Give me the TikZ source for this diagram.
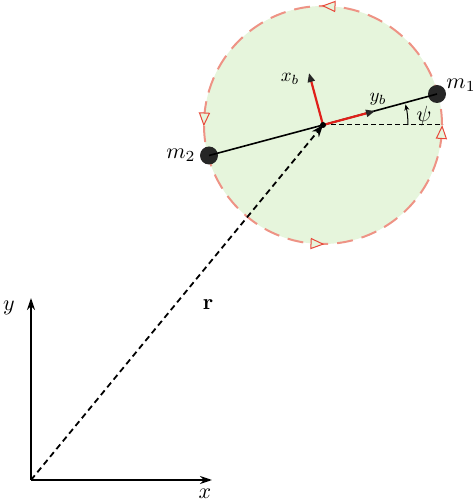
\documentclass[tikz,border=0pt]{standalone}
\usetikzlibrary{arrows.meta,decorations.markings}
\definecolor{discfill}{HTML}{E6F5DC}
\definecolor{discedge}{HTML}{EE9385}
\definecolor{vecred}{HTML}{E0201A}
\definecolor{markred}{HTML}{E8483A}
\begin{document}
\begin{tikzpicture}[x=1pt,y=1pt,
  lbl/.style={inner sep=0pt,scale=2.2},
  smalllbl/.style={inner sep=0pt,scale=1.9},
  axis/.style={line width=1.6pt,-{Stealth[length=12pt,width=8pt]}},
  massdot/.style={circle,fill=black!85,minimum size=18pt,inner sep=0pt},
  bodyvec/.style={vecred,line width=2.2pt,-{Triangle[length=9pt,width=7pt,fill=black!75,color=black!85]}},
  markarrow/.style={decoration={markings,
     mark=at position 0.242 with {\draw[solid,markred,line width=1pt,fill=discfill] (-6pt,-5pt) -- (6pt,0pt) -- (-6pt,5pt) -- cycle;},
     mark=at position 0.492 with {\draw[solid,markred,line width=1pt,fill=discfill] (-6pt,-5pt) -- (6pt,0pt) -- (-6pt,5pt) -- cycle;},
     mark=at position 0.742 with {\draw[solid,markred,line width=1pt,fill=discfill] (-6pt,-5pt) -- (6pt,0pt) -- (-6pt,5pt) -- cycle;},
     mark=at position 0.990 with {\draw[solid,markred,line width=1pt,fill=discfill] (-6pt,-5pt) -- (6pt,0pt) -- (-6pt,5pt) -- cycle;}},
     postaction=decorate}]
\useasboundingbox (0,0) rectangle (474,504);
% frame
\coordinate (O) at (31,24);
\coordinate (Ytip) at (31,206);
\coordinate (Xtip) at (212,24);
\coordinate (C) at (323,379);
% disc
\fill[discfill] (C) circle (119);
\draw[discedge,line width=2pt,dash pattern=on 16pt off 9pt,
  markarrow] ([shift={(0:119)}]C) arc (0:360:119);
% axes
\draw[axis] (O) -- (Ytip);
\draw[axis] (O) -- (Xtip);
\node[lbl] (ylab) at (9,196) {$y$};
\node[lbl] (xlab) at (205,10) {$x$};
% r vector
\draw[line width=1.8pt,dash pattern=on 6pt off 4pt,-{Stealth[length=12pt,width=9pt]}] (O) -- (C);
\node[lbl] (rlab) at (208,199) {$\mathbf{r}$};
% rod and masses
\node[massdot] (m1) at (437,410) {};
\node[massdot] (m2) at (209,348.5) {};
\draw[line width=1.6pt] (m2.center) -- (C) -- (m1.center);
\node[lbl,anchor=west] (m1lab) at (446,419) {$m_1$};
\node[lbl] (m2lab) at (181,349) {$m_2$};
% reference line and angle
\coordinate (H) at (443,379);
\draw[line width=1pt,dash pattern=on 5pt off 3pt] (C) -- (H);
\draw[line width=1pt,-{Stealth[length=6pt,width=5pt]}] ([shift={(0:85)}]C) arc (0:14:85);
\node[lbl] (psilab) at (424,388) {$\psi$};
% body vectors
\coordinate (yb) at (375,393);
\coordinate (xb) at (309,431);
\draw[bodyvec] (C) -- (yb);
\draw[bodyvec] (C) -- (xb);
\node[smalllbl] (yblab) at (378,405) {$y_b$};
\node[smalllbl] (xblab) at (290,425) {$x_b$};
\fill[black] (C) circle (3);
\end{tikzpicture}
\end{document}
